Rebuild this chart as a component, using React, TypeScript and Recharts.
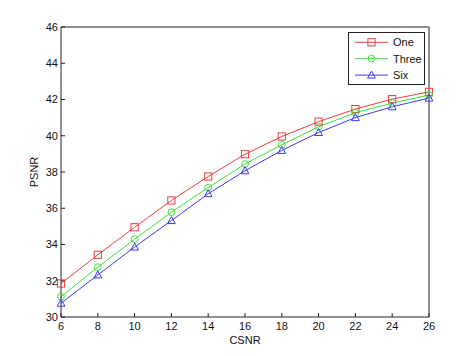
import React from 'react';
import { LineChart, Line, XAxis, YAxis } from 'recharts';

const csnr = [6, 8, 10, 12, 14, 16, 18, 20, 22, 24, 26];
const one = [31.85, 33.43, 34.95, 36.43, 37.75, 38.98, 39.96, 40.78, 41.47, 42.02, 42.42];
const three = [31.12, 32.75, 34.29, 35.78, 37.14, 38.44, 39.5, 40.5, 41.27, 41.8, 42.25];
const six = [30.76, 32.32, 33.86, 35.32, 36.8, 38.07, 39.19, 40.18, 41.0, 41.6, 42.08];

const xTicks = [6, 8, 10, 12, 14, 16, 18, 20, 22, 24, 26];
const yTicks = [30, 32, 34, 36, 38, 40, 42, 44, 46];

const seriesNames = ['One', 'Three', 'Six'];
const seriesKeys = ['one', 'three', 'six'];
const seriesColors = ['#f03c3c', '#3ce03c', '#3c3cf0'];
const seriesMarkers = ['square', 'circle', 'triangle'];

const data = csnr.map((x, i) => ({ x, one: one[i], three: three[i], six: six[i] }));

const FONT = '"Liberation Sans", Arial, Helvetica, sans-serif';
const AXIS = '#222';

function Marker({ kind, cx, cy, color }: { kind: string; cx: number; cy: number; color: string }) {
  if (cx == null || cy == null) return null;
  if (kind === 'square') {
    return <rect x={cx - 3.6} y={cy - 3.6} width={7.2} height={7.2} fill="none" stroke={color} strokeWidth={1} />;
  }
  if (kind === 'circle') {
    return <circle cx={cx} cy={cy} r={3.4} fill="none" stroke={color} strokeWidth={1} />;
  }
  return (
    <polygon
      points={`${cx},${cy - 4} ${cx - 3.9},${cy + 3} ${cx + 3.9},${cy + 3}`}
      fill="none"
      stroke={color}
      strokeWidth={1}
    />
  );
}

const makeDot = (kind: string, color: string) => (props: any) => (
  <Marker key={`${kind}-${props.index}`} kind={kind} cx={props.cx} cy={props.cy} color={color} />
);

export default function App() {
  const tickStyle = { fill: '#111', fontSize: 11, fontFamily: FONT };
  return (
    <div style={{ position: 'absolute', left: 0, top: 0, width: 474, height: 356, background: '#fff' }}>
      <LineChart width={474} height={356} data={data} margin={{ top: 22, right: 40, bottom: 9, left: 21 }}>
        <XAxis
          xAxisId="bottom"
          dataKey="x"
          type="number"
          domain={[6, 26]}
          ticks={xTicks}
          orientation="bottom"
          height={30}
          tickSize={-4}
          tickMargin={9}
          stroke={AXIS}
          tick={tickStyle}
          interval={0}
        />
        <XAxis
          xAxisId="top"
          dataKey="x"
          type="number"
          domain={[6, 26]}
          ticks={xTicks}
          orientation="top"
          height={5}
          tickSize={-4}
          stroke={AXIS}
          tick={false}
          interval={0}
        />
        <YAxis
          yAxisId="left"
          type="number"
          domain={[30, 46]}
          ticks={yTicks}
          orientation="left"
          width={40}
          tickSize={-4}
          tickMargin={7}
          stroke={AXIS}
          tick={tickStyle}
          interval={0}
        />
        <YAxis
          yAxisId="right"
          type="number"
          domain={[30, 46]}
          ticks={yTicks}
          orientation="right"
          width={5}
          tickSize={-4}
          stroke={AXIS}
          tick={false}
          interval={0}
        />
        {seriesKeys.map((k, i) => (
          <Line
            key={k}
            xAxisId="bottom"
            yAxisId="left"
            dataKey={k}
            name={seriesNames[i]}
            stroke={seriesColors[i]}
            strokeWidth={1}
            isAnimationActive={false}
            dot={makeDot(seriesMarkers[i], seriesColors[i])}
            activeDot={false}
          />
        ))}
        <text x={245} y={344} textAnchor="middle" fontSize={11} fontFamily={FONT} fill="#111">
          CSNR
        </text>
        <text
          x={38}
          y={172}
          textAnchor="middle"
          fontSize={11}
          fontFamily={FONT}
          fill="#111"
          transform="rotate(-90, 38, 172)"
        >
          PSNR
        </text>
        <g>
          <rect x={348.5} y={32.5} width={76} height={52} fill="#fff" stroke={AXIS} strokeWidth={1} />
          {seriesNames.map((name, i) => {
            const y = 42.3 + i * 16.4;
            return (
              <g key={name}>
                <line x1={355} y1={y} x2={388} y2={y} stroke={seriesColors[i]} strokeWidth={1} />
                <Marker kind={seriesMarkers[i]} cx={371.5} cy={y} color={seriesColors[i]} />
                <text x={393} y={y + 4} fontSize={11} fontFamily={FONT} fill="#111">
                  {name}
                </text>
              </g>
            );
          })}
        </g>
      </LineChart>
    </div>
  );
}
